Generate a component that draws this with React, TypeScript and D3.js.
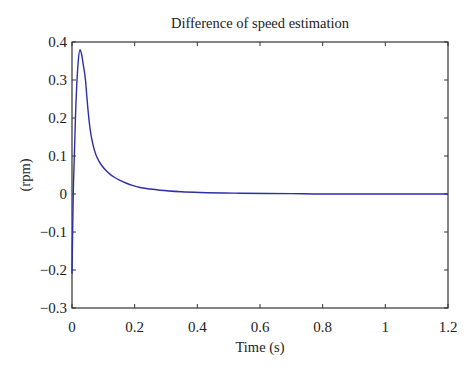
import React from "react";
import * as d3 from "d3";

const times = [0, 0.002, 0.004, 0.0075, 0.011, 0.016, 0.02, 0.0255, 0.03, 0.036, 0.043, 0.048, 0.053, 0.058, 0.063, 0.07, 0.077, 0.085, 0.095, 0.107, 0.12, 0.135, 0.153, 0.172, 0.195, 0.217, 0.25, 0.281, 0.35, 0.41, 0.536, 0.7, 0.8, 0.9, 1.0, 1.1, 1.2];
const values = [-0.21, -0.1, 0, 0.1, 0.2, 0.3, 0.35, 0.38, 0.37, 0.34, 0.3, 0.25, 0.205, 0.17, 0.145, 0.12, 0.102, 0.088, 0.075, 0.063, 0.053, 0.044, 0.036, 0.029, 0.022, 0.017, 0.013, 0.01, 0.006, 0.004, 0.002, 0.001, 0, 0, 0, 0, 0];
const xTicks = [0, 0.2, 0.4, 0.6, 0.8, 1, 1.2];
const yTicks = [-0.3, -0.2, -0.1, 0, 0.1, 0.2, 0.3, 0.4];

const W = 474, H = 373;
const L = 72, R = 448, T = 42, B = 308;
const font = "'Liberation Serif', 'DejaVu Serif', serif";

export default function App() {
  const x = d3.scaleLinear().domain([0, 1.2]).range([L, R]);
  const y = d3.scaleLinear().domain([-0.3, 0.4]).range([B, T]);
  const line = d3.line<number>().x((_, i) => x(times[i])).y((d) => y(d)).curve(d3.curveMonotoneX);
  const axisColor = "#333";
  return (
    <svg width={W} height={H} style={{ position: "absolute", left: 0, top: 0, background: "#fff" }}>
      <rect x={L} y={T} width={R - L} height={B - T} fill="none" stroke={axisColor} strokeWidth={1.2} />
      {xTicks.map((t) => (
        <g key={"x" + t}>
          <line x1={x(t)} x2={x(t)} y1={B} y2={B - 4} stroke={axisColor} />
          <line x1={x(t)} x2={x(t)} y1={T} y2={T + 4} stroke={axisColor} />
          <text x={x(t)} y={B + 24} textAnchor="middle" fontFamily={font} fontSize={15} fill="#222">{String(t)}</text>
        </g>
      ))}
      {yTicks.map((t) => (
        <g key={"y" + t}>
          <line x1={L} x2={L + 4} y1={y(t)} y2={y(t)} stroke={axisColor} />
          <line x1={R} x2={R - 4} y1={y(t)} y2={y(t)} stroke={axisColor} />
          <text x={L - 5} y={y(t) + 5} textAnchor="end" fontFamily={font} fontSize={15} fill="#222">
            {t < 0 ? "\u2212" + String(Math.abs(t)) : String(t)}
          </text>
        </g>
      ))}
      <path d={line(values) || ""} fill="none" stroke="#2e2ea8" strokeWidth={1.4} />
      <text x={(L + R) / 2} y={28} textAnchor="middle" fontFamily={font} fontSize={14.5} fill="#222">Difference of speed estimation</text>
      <text x={(L + R) / 2} y={352} textAnchor="middle" fontFamily={font} fontSize={14.5} fill="#222">Time (s)</text>
      <text transform={`translate(30, ${y(0.05)}) rotate(-90)`} textAnchor="middle" fontFamily={font} fontSize={14.5} fill="#222">(rpm)</text>
    </svg>
  );
}
